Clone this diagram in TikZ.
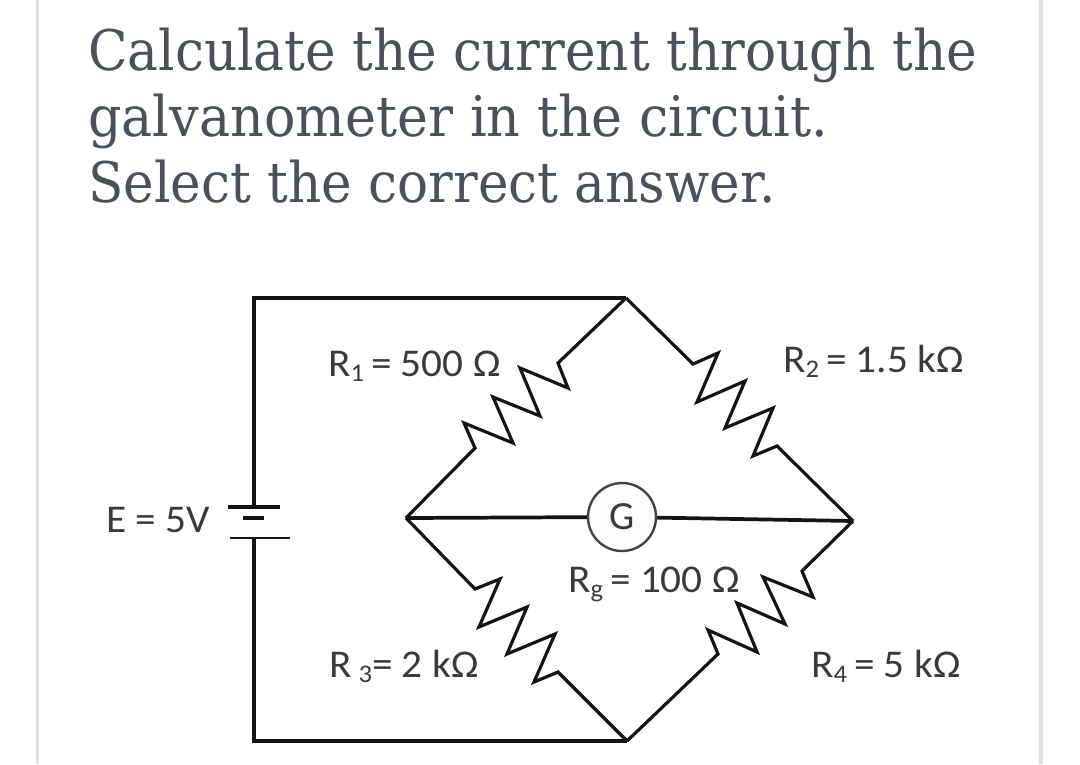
\documentclass[tikz,border=0pt]{standalone}
\usepackage{fontspec}
\setmainfont{DejaVu Serif}
\newfontfamily\lblfont{Carlito}
\definecolor{titlegray}{HTML}{4A5159}
\definecolor{wirecol}{HTML}{141414}
\definecolor{lblcol}{HTML}{3A3A3A}
\definecolor{edgegray}{HTML}{DDE0E5}
\definecolor{glow}{HTML}{FBFCFE}
\tikzset{
  wire/.style={draw=wirecol,line width=2.8pt,line join=miter},
  zig/.style={draw=wirecol,line width=2.4pt,line join=miter},
  title/.style={anchor=base west,inner sep=0pt,text=titlegray,font=\fontsize{42pt}{42pt}\selectfont},
  lbl/.style={anchor=base west,inner sep=0pt,xscale=1.05,text=lblcol,font=\lblfont\fontsize{29.5pt}{29.5pt}\selectfont},
  meter/.style={circle,draw=wirecol!80,line width=1.8pt,fill=glow,minimum size=51pt,inner sep=0pt,text=lblcol,font=\lblfont\fontsize{30pt}{30pt}\selectfont},
  side/.style={draw=edgegray,line width=2.4pt}
}
\newcommand{\sbs}[1]{\raisebox{-4pt}{\fontsize{19pt}{19pt}\selectfont #1}}
\begin{document}
\begin{tikzpicture}[x=0.75pt,y=-0.75pt]
\useasboundingbox (0,0) rectangle (1080,764);
\draw[side] (37.5,0) -- (37.5,764);
\draw[side] (1041,0) -- (1041,764);
\node[title,xscale=0.923] (t1) at (88,70) {Calculate the current through the};
\node[title,xscale=0.935] (t2) at (88,136) {galvanometer in the circuit.};
\node[title,xscale=0.923] (t3) at (88,202) {Select the correct answer.};
\coordinate (top) at (626,298);
\coordinate (left) at (406,518);
\coordinate (right) at (853,521);
\coordinate (bot) at (627,741);
\coordinate (tl) at (254,298);
\coordinate (bl) at (254,741);
\coordinate (batp) at (254,507);
\coordinate (batn) at (254,538);
\node[meter] (g) at (622,517) {G};
\draw[wire] (batp) -- (tl) -- (top);
\draw[wire] (batn) -- (bl) -- (bot);
\draw[wire] (left) -- (g);
\draw[wire] (g) -- (right);
\draw[wire] (228,507) -- (280,507);
\draw[wire] (243,518) -- (264,518);
\draw[draw=wirecol,line width=1.5pt] (230,538) -- (290,538);
\draw[zig] (top) -- (558,363) -- (568,388) -- (520,368) -- (540,416) -- (493,397) -- (513,443) -- (464,423) -- (475,448) -- (left);
\draw[zig] (top) -- (693,364) -- (718,353) -- (697,402) -- (745,381) -- (725,428) -- (773,408) -- (753,456) -- (777,446) -- (right);
\draw[zig] (left) -- (475,589) -- (500,579) -- (479,627) -- (527,607) -- (507,654) -- (555,634) -- (534,682) -- (558,672) -- (bot);
\draw[zig] (bot) -- (718,654) -- (708,630) -- (757,652) -- (737,603) -- (785,624) -- (763,577) -- (813,597) -- (802,571) -- (right);
\node[lbl] (e) at (106,532) {E = 5V};
\node[lbl] (r1) at (328,376) {R\sbs{1}\,= 500 Ω};
\node[lbl] (r2) at (783,372) {R\sbs{2}\,= 1.5 kΩ};
\node[lbl] (rg) at (568,592) {R\sbs{g}\,= 100 Ω};
\node[lbl] (r3) at (329,677) {R\,\sbs{3}= 2 kΩ};
\node[lbl] (r4) at (811,677) {R\sbs{4}\,= 5 kΩ};
\end{tikzpicture}
\end{document}
